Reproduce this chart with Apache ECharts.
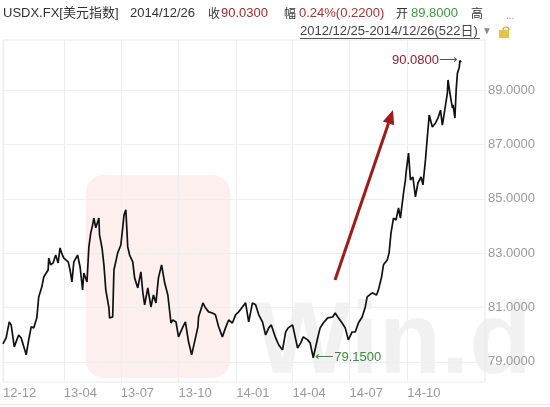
<!DOCTYPE html>
<html><head><meta charset="utf-8">
<script src="https://cdn.jsdelivr.net/npm/echarts@6/dist/echarts.min.js"></script>
<style>html,body{margin:0;padding:0;background:#fff}#c{width:550px;height:407px}</style>
</head><body><div id="c"></div>
<script>
const dates = [
'2012-12-25','2012-12-30','2013-01-04','2013-01-07','2013-01-12','2013-01-16','2013-01-19','2013-01-23','2013-01-26','2013-01-31',
'2013-02-04','2013-02-08','2013-02-12','2013-02-17','2013-02-20','2013-02-25','2013-02-28','2013-03-07','2013-03-08','2013-03-11',
'2013-03-15','2013-03-19','2013-03-23','2013-03-26','2013-03-29','2013-04-01','2013-04-08','2013-04-11','2013-04-14','2013-04-17',
'2013-04-23','2013-04-27','2013-05-01','2013-05-03','2013-05-08','2013-05-11','2013-05-14','2013-05-17','2013-05-19','2013-05-22',
'2013-05-27','2013-05-28','2013-06-01','2013-06-04','2013-06-07','2013-06-12','2013-06-13','2013-06-18','2013-06-20','2013-06-26',
'2013-07-01','2013-07-04','2013-07-06','2013-07-09','2013-07-12','2013-07-15','2013-07-20','2013-07-23','2013-07-28','2013-08-02',
'2013-08-05','2013-08-08','2013-08-13','2013-08-18','2013-08-22','2013-08-26','2013-08-30','2013-09-04','2013-09-09','2013-09-14',
'2013-09-19','2013-09-22','2013-09-27','2013-10-01','2013-10-08','2013-10-12','2013-10-17','2013-10-22','2013-10-25','2013-11-01',
'2013-11-02','2013-11-09','2013-11-13','2013-11-18','2013-11-24','2013-11-29','2013-12-04','2013-12-10','2013-12-15','2013-12-20',
'2013-12-26','2013-12-31','2014-01-05','2014-01-11','2014-01-16','2014-01-21','2014-01-27','2014-02-01','2014-02-06','2014-02-12',
'2014-02-17','2014-02-22','2014-02-26','2014-03-05','2014-03-10','2014-03-16','2014-03-21','2014-03-25','2014-04-01','2014-04-04',
'2014-04-09','2014-04-14','2014-04-18','2014-04-25','2014-04-29','2014-05-04','2014-05-11','2014-05-15','2014-05-20','2014-05-27',
'2014-06-04','2014-06-08','2014-06-13','2014-06-19','2014-06-24','2014-06-29','2014-07-05','2014-07-10','2014-07-15','2014-07-21',
'2014-07-26','2014-07-29','2014-08-06','2014-08-13','2014-08-16','2014-08-21','2014-08-24','2014-08-30','2014-09-02','2014-09-05',
'2014-09-09','2014-09-13','2014-09-17','2014-09-20','2014-09-25','2014-09-28','2014-09-29','2014-10-03','2014-10-06','2014-10-10',
'2014-10-14','2014-10-18','2014-10-23','2014-10-26','2014-10-30','2014-11-02','2014-11-05','2014-11-10','2014-11-15','2014-11-19',
'2014-11-23','2014-11-26','2014-11-29','2014-12-04','2014-12-05','2014-12-08','2014-12-12','2014-12-13','2014-12-16','2014-12-18',
'2014-12-20','2014-12-23','2014-12-24','2014-12-26'
];
const values = [
79.66,79.88,80.47,80.36,79.55,79.81,79.99,79.88,79.81,79.26,
79.81,80.29,80.25,80.62,81.39,81.76,82.12,82.38,82.82,82.57,
82.64,82.93,82.64,83.19,82.97,82.82,82.68,82.38,81.94,82.68,
82.93,82.49,81.65,82.27,81.94,83.23,83.74,84.04,84.29,83.93,
84.29,83.67,83.19,82.57,81.65,80.99,80.62,80.65,82.38,83.01,
83.30,83.93,84.40,84.59,83.23,82.93,82.68,82.09,81.72,82.31,
81.57,81.10,81.72,81.02,81.46,81.17,82.09,82.57,81.90,81.46,
80.43,80.54,80.47,79.92,80.29,80.47,79.74,79.26,79.33,80.29,
80.65,81.17,80.99,80.84,80.80,80.73,80.29,79.92,80.25,80.54,
80.43,80.73,80.84,81.02,81.17,80.47,81.17,81.10,80.73,80.47,
79.99,80.25,80.36,79.88,79.62,79.44,80.10,80.25,80.36,80.43,
79.51,79.70,79.92,79.81,79.70,79.15,79.88,80.25,80.43,80.62,
80.65,80.80,80.62,80.43,80.25,79.81,80.10,80.10,80.43,80.65,
81.02,81.39,81.54,81.46,81.65,82.12,82.57,82.75,83.01,83.74,
84.29,84.22,84.66,84.29,85.21,85.69,85.95,86.68,85.69,85.80,
85.07,85.58,85.80,85.51,86.43,87.27,88.08,87.64,87.79,87.97,
88.26,87.71,88.15,88.89,89.37,88.89,88.34,88.45,87.97,89.00,
89.62,89.84,90.08,90.03
];
const xTickDates = ['2012-12-25','2013-04-01','2013-07-01','2013-10-01','2014-01-01','2014-04-01','2014-07-01','2014-10-01'];
const xTickLabels = ['12-12','13-04','13-07','13-10','14-01','14-04','14-07','14-10'];
const yTicks = [79, 81, 83, 85, 87, 89];
const xRange = ['2012-12-25', '2015-02-02'];
const yRange = [78.26, 90.84];

const FONT = '"Liberation Sans","Noto Sans CJK SC",sans-serif';
const CJK = '"Noto Sans CJK SC",sans-serif';
const parse = s => +echarts.time.parse(s);
const xTickTs = xTickDates.map(parse);
const chart = echarts.init(document.getElementById('c'));

function txt(text, x, y, fill, size, fam) {
  return {type:'text', x:x, y:y, z:20, silent:true,
    style:{text:text, fill:fill, font: (size||13)+'px '+(fam||FONT), verticalAlign:'middle'}};
}

chart.setOption({
  animation: false,
  backgroundColor: '#fff',
  grid: {left: 2, right: 65, top: 40, bottom: 25, show: true, borderColor: '#e8e8e8', borderWidth: 1},
  xAxis: {
    type: 'value', min: parse(xRange[0]), max: parse(xRange[1]),
    axisLine: {show: false},
    axisTick: {show: false, customValues: xTickTs},
    axisLabel: {customValues: xTickTs, align: 'left', color: '#9a9a9a', fontSize: 13, fontFamily: FONT, margin: 5,
      formatter: function (v) {
        let best = 0, d = Infinity;
        xTickTs.forEach((t, i) => { if (Math.abs(t - v) < d) { d = Math.abs(t - v); best = i; } });
        return xTickLabels[best];
      }},
    splitLine: {show: true, lineStyle: {color: '#eeeeee', width: 1}}
  },
  yAxis: {
    type: 'value', position: 'right', min: yRange[0], max: yRange[1],
    axisLine: {show: false},
    axisTick: {show: false, customValues: yTicks},
    axisLabel: {customValues: yTicks, color: '#9a9a9a', fontSize: 13, fontFamily: FONT, margin: 3,
      formatter: v => Number(v).toFixed(4)},
    splitLine: {show: true, lineStyle: {color: '#eeeeee', width: 1}}
  },
  series: [{
    type: 'line', z: 5,
    data: dates.map((d, i) => [parse(d), values[i]]),
    symbol: 'none', showSymbol: false,
    lineStyle: {color: '#111', width: 1.7},
    markPoint: {
      symbol: 'circle', symbolSize: 2, itemStyle: {color: 'rgba(0,0,0,0)'},
      data: [
        {type: 'max', label: {position: 'left', distance: 1,
          formatter: p => '{v|' + Number(p.value).toFixed(4) + '}{a|⟶}',
          rich: {v: {color: '#8e1f2a', fontSize: 13, fontFamily: FONT}, a: {color: '#555', fontSize: 13}}}},
        {type: 'min', label: {position: 'right', distance: 1,
          formatter: p => '{a|⟵}{v|' + Number(p.value).toFixed(4) + '}',
          rich: {v: {color: '#3a8a3a', fontSize: 13, fontFamily: FONT}, a: {color: '#3a8a3a', fontSize: 13}}}}
      ]
    }
  }],
  graphic: {elements: [
    {type: 'rect', z: -1, silent: true, shape: {x: 86, y: 175, width: 144, height: 203, r: 18}, style: {fill: '#fcefee'}},
    {type: 'text', z: -1, silent: true, x: 255, y: 294,
      style: {text: 'Win.d', fill: 'rgba(0,0,0,0.055)', font: 'bold 102px "Liberation Sans",sans-serif'}},
    {type: 'line', z: 20, silent: true, shape: {x1: 335, y1: 280, x2: 388.5, y2: 123.3},
      style: {stroke: '#9e1b1b', lineWidth: 3}},
    {type: 'polygon', z: 20, silent: true, shape: {points: [[393, 110], [394.2, 125.2], [382.8, 121.4]]},
      style: {fill: '#9e1b1b'}},
    txt('USDX.FX[美元指数]', 3, 13, '#333'),
    txt('2014/12/26', 130, 13, '#333'),
    txt('收', 208, 13, '#333', 12, CJK),
    txt('90.0300', 221, 13, '#a02a2a'),
    txt('幅', 284, 13, '#333', 12, CJK),
    txt('0.24%(0.2200)', 299, 13, '#b03030'),
    txt('开', 396, 13, '#333', 12, CJK),
    txt('89.8000', 411, 13, '#3c9a3c'),
    txt('高', 471, 13, '#333', 12, CJK),
    txt('...', 506, 16, '#999', 10),
    txt('2012/12/25-2014/12/26(522日)', 300, 31, '#444'),
    {type: 'line', z: 20, silent: true, shape: {x1: 300, y1: 38.5, x2: 480, y2: 38.5}, style: {stroke: '#555', lineWidth: 1}},
    txt('▼', 482, 31, '#8a8a8a', 10),
    {type: 'rect', z: 20, silent: true, shape: {x: 499, y: 30, width: 10, height: 8}, style: {fill: '#e6c24a'}},
    {type: 'arc', z: 20, silent: true, shape: {cx: 506, cy: 30, r: 3, startAngle: Math.PI, endAngle: 0}, style: {stroke: '#c9a636', lineWidth: 1.2, fill: 'none'}},
    {type: 'line', z: 20, silent: true, shape: {x1: 0, y1: 404.5, x2: 550, y2: 404.5}, style: {stroke: '#e6e6e6', lineWidth: 1}}
  ]}
});
</script></body></html>
